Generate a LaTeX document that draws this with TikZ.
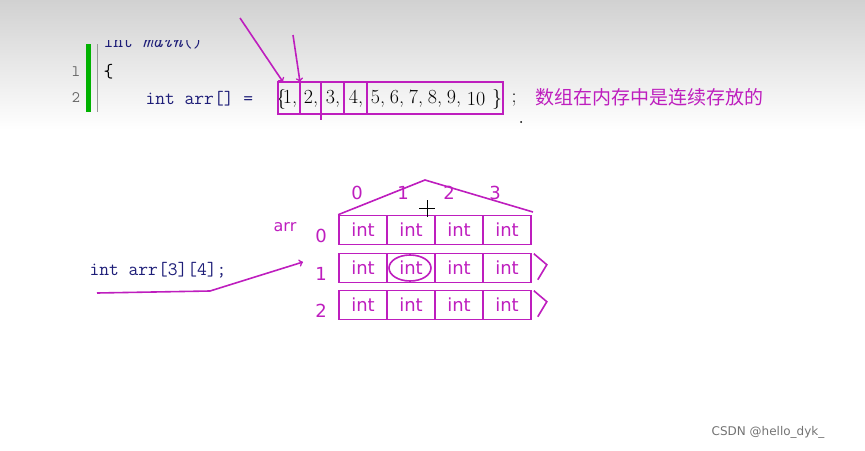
\documentclass[tikz,border=0pt]{standalone}
\usepackage{fontspec}
\newfontfamily\cjk{Noto Sans CJK SC}
\setsansfont{DejaVu Sans}
\usetikzlibrary{calc}
\definecolor{pen}{RGB}{190,30,190}
\definecolor{codeblue}{RGB}{30,30,120}
\tikzset{
    ink/.style={draw=pen, line width=1.6pt},
    cell/.style={ink, minimum width=48pt, minimum height=29pt, inner sep=0pt,
        font=\sffamily\fontsize{18}{18}\selectfont, text=pen, text depth=0pt},
    idxlabel/.style={text=pen, font=\sffamily\fontsize{18}{18}\selectfont},
    code/.style={anchor=west, text=codeblue, font=\ttfamily\fontsize{19}{19}\selectfont},
    num/.style={font=\fontsize{20}{20}\selectfont, inner sep=0pt}
}
\begin{document}
\begin{tikzpicture}[x=1pt, y=-1pt]
    \useasboundingbox (0,0) rectangle (865,450);
    \shade[top color=black!18, bottom color=white] (0,0) rectangle (865,130);

    % code lines
    \begin{scope}
        \clip (0,40) rectangle (865,130);
        \node[code] (fmain) at (100,42) {int \textit{main}()};
    \end{scope}
    \fill[green!70!black] (86,44) rectangle (91,112);
    \draw[black!40] (97,44) -- (97,112);
    \node[text=black!60, font=\ttfamily\fontsize{16}{16}\selectfont] (ln1) at (76,72) {l};
    \node[text=black!60, font=\ttfamily\fontsize{16}{16}\selectfont] (ln2) at (76,98) {2};
    \node[code, text=black] (brace) at (100,72) {\{};
    \node[code] (decl) at (142,99) {int arr[] =};
    \foreach \v/\x in {{\{}/281,{1,}/290,{2,}/311,{3,}/333,{4,}/356,{5,}/378,{6,}/397,{7,}/416,{8,}/435,{9,}/454,{10}/476,{\}}/497}
        \node[num] at (\x,99) {\v};
    \node[num] (semi) at (514,100) {;};
    \node[anchor=west, text=pen, font=\cjk\fontsize{19}{19}\selectfont] (note) at (532,97) {数组在内存中是连续存放的};

    % boxes on the values
    \draw[ink] (278,82) rectangle (503,114);
    \foreach \x in {300,344,367}
        \draw[ink] (\x,82) -- (\x,114);
    \draw[ink] (321,82) -- (321,120);
    \coordinate (t1) at (283,82);
    \coordinate (t2) at (300,82);
    \draw[ink, ->] (240,18) -- (t1);
    \draw[ink, ->] (293,35) -- (t2);
    \fill (521,122) circle (1pt);

    % two dimensional array
    \foreach \r/\y in {0/230,1/268,2/305} {
        \foreach \c in {0,...,3}
            \node[cell] (c\r\c) at (363+48*\c,\y) {int};
        \node[idxlabel] (row\r) at (321,\y+6) {\r};
    }
    \foreach \c in {0,...,3}
        \node[idxlabel] (col\c) at (357+46*\c,193) {\c};
    \node[idxlabel, font=\sffamily\fontsize{16}{16}\selectfont] (arrname) at (285,227) {arr};
    \draw[ink] (c00.north west) -- (425,180) -- (533,212);
    \foreach \r in {1,2}
        \draw[ink] ($(c\r3.north east)+(2,1)$) -- ++(13,11) -- ++(-9,15);
    \draw[ink] (c11.center) ++(-1,0) ellipse (21pt and 13pt);
    \draw[black, thick] (427,200) -- (427,217) (419,208) -- (435,208);

    % declaration
    \node[code] (dec2) at (86,270) {int arr[3][4];};
    \coordinate (pt) at (303,262);
    \draw[ink, ->] (97,293) -- (210,291) -- (pt);

    \node[text=black!55, font=\sffamily\fontsize{12}{12}\selectfont] (wm) at (768,432) {CSDN @hello\_dyk\_};
\end{tikzpicture}
\end{document}
